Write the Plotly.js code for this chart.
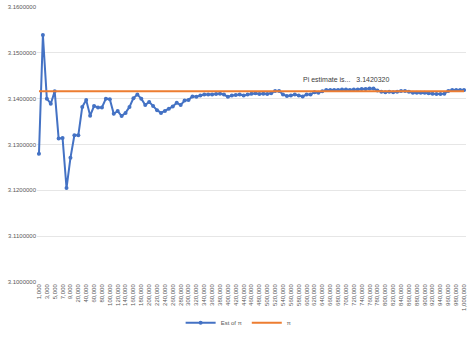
<!DOCTYPE html>
<html>
<head>
<meta charset="utf-8">
<script src="https://cdn.plot.ly/plotly-3.0.1.min.js"></script>
<style>html,body{margin:0;padding:0;background:#fff;}#chart{width:474px;height:344px;}</style>
</head>
<body>
<div id="chart"></div>
<script>
const categories = [
"1,000","2,000","3,000","4,000","5,000","6,000","7,000","8,000","9,000","10,000",
"20,000","30,000","40,000","50,000","60,000","70,000","80,000","90,000","100,000","110,000",
"120,000","130,000","140,000","150,000","160,000","170,000","180,000","190,000","200,000","210,000",
"220,000","230,000","240,000","250,000","260,000","270,000","280,000","290,000","300,000","310,000",
"320,000","330,000","340,000","350,000","360,000","370,000","380,000","390,000","400,000","410,000",
"420,000","430,000","440,000","450,000","460,000","470,000","480,000","490,000","500,000","510,000",
"520,000","530,000","540,000","550,000","560,000","570,000","580,000","590,000","600,000","610,000",
"620,000","630,000","640,000","650,000","660,000","670,000","680,000","690,000","700,000","710,000",
"720,000","730,000","740,000","750,000","760,000","770,000","780,000","790,000","800,000","810,000",
"820,000","830,000","840,000","850,000","860,000","870,000","880,000","890,000","900,000","910,000",
"920,000","930,000","940,000","950,000","960,000","970,000","980,000","990,000","1,000,000"
];

const estPi = [
3.1280,3.1539,3.1400,3.1389,3.1416,3.1313,3.1314,3.1205,3.1271,3.1320,
3.1320,3.1382,3.1397,3.1363,3.1384,3.1381,3.1381,3.1400,3.1399,3.1367,
3.1373,3.1362,3.1369,3.1382,3.1401,3.1409,3.1400,3.1386,3.1393,3.1384,
3.1375,3.1369,3.1373,3.1378,3.1383,3.1391,3.1386,3.1396,3.1397,3.1405,
3.1404,3.1407,3.1409,3.1409,3.1409,3.1410,3.1411,3.1409,3.1404,3.1407,
3.1408,3.1409,3.1407,3.1409,3.1411,3.1412,3.1410,3.1411,3.1410,3.1412,
3.1417,3.1417,3.1409,3.1406,3.1407,3.1409,3.1407,3.1405,3.1409,3.1409,
3.1414,3.1413,3.1416,3.1419,3.1419,3.1419,3.1419,3.1420,3.1420,3.1419,
3.1420,3.1420,3.1421,3.1421,3.1422,3.1422,3.1418,3.1415,3.1414,3.1415,
3.1414,3.1415,3.1417,3.1417,3.1415,3.1413,3.1413,3.1413,3.1413,3.1412,
3.1411,3.1410,3.1410,3.1411,3.1417,3.1419,3.1419,3.1419,3.1419
];

const PI_VALUE = 3.14159265;
const piLine = categories.map(() => PI_VALUE);

const yTicks = [3.10, 3.11, 3.12, 3.13, 3.14, 3.15, 3.16];
const estimateText = "Pi estimate is...   3.1420320";

const fontFam = "Liberation Sans, Arial, sans-serif";

const traces = [
  {
    x: categories, y: estPi, type: "scatter", mode: "lines+markers",
    name: "Est of π",
    line: {color: "#4472C4", width: 2},
    marker: {color: "#4472C4", size: 4}
  },
  {
    x: categories, y: piLine, type: "scatter", mode: "lines",
    name: "π",
    line: {color: "#ED7D31", width: 2}
  }
];

const layout = {
  width: 474, height: 344,
  margin: {l: 37, r: 8, t: 7, b: 53},
  paper_bgcolor: "#ffffff", plot_bgcolor: "#ffffff",
  showlegend: true,
  legend: {
    orientation: "h", x: 0.47, xanchor: "center", y: -0.148, yanchor: "middle",
    font: {family: fontFam, size: 6, color: "#595959"},
    itemwidth: 30, tracegroupgap: 0
  },
  xaxis: {
    type: "category",
    range: [-0.5, categories.length - 0.5],
    tickmode: "linear", tick0: 0, dtick: 2,
    tickangle: -90,
    tickfont: {family: fontFam, size: 6, color: "#595959"},
    showgrid: false, zeroline: false, showline: false,
    ticks: "", ticklen: 0
  },
  yaxis: {
    range: [3.10, 3.16],
    tickmode: "array", tickvals: yTicks,
    tickformat: ".7f",
    tickfont: {family: fontFam, size: 6, color: "#595959"},
    gridcolor: "#e6e6e6", gridwidth: 1,
    zeroline: false, showline: false, ticks: ""
  },
  annotations: [{
    xref: "paper", yref: "paper", x: 0.825, y: 0.755,
    text: estimateText, showarrow: false,
    font: {family: fontFam, size: 7, color: "#404040"}
  }]
};

Plotly.newPlot("chart", traces, layout, {displayModeBar: false, staticPlot: true});
</script>
</body>
</html>
